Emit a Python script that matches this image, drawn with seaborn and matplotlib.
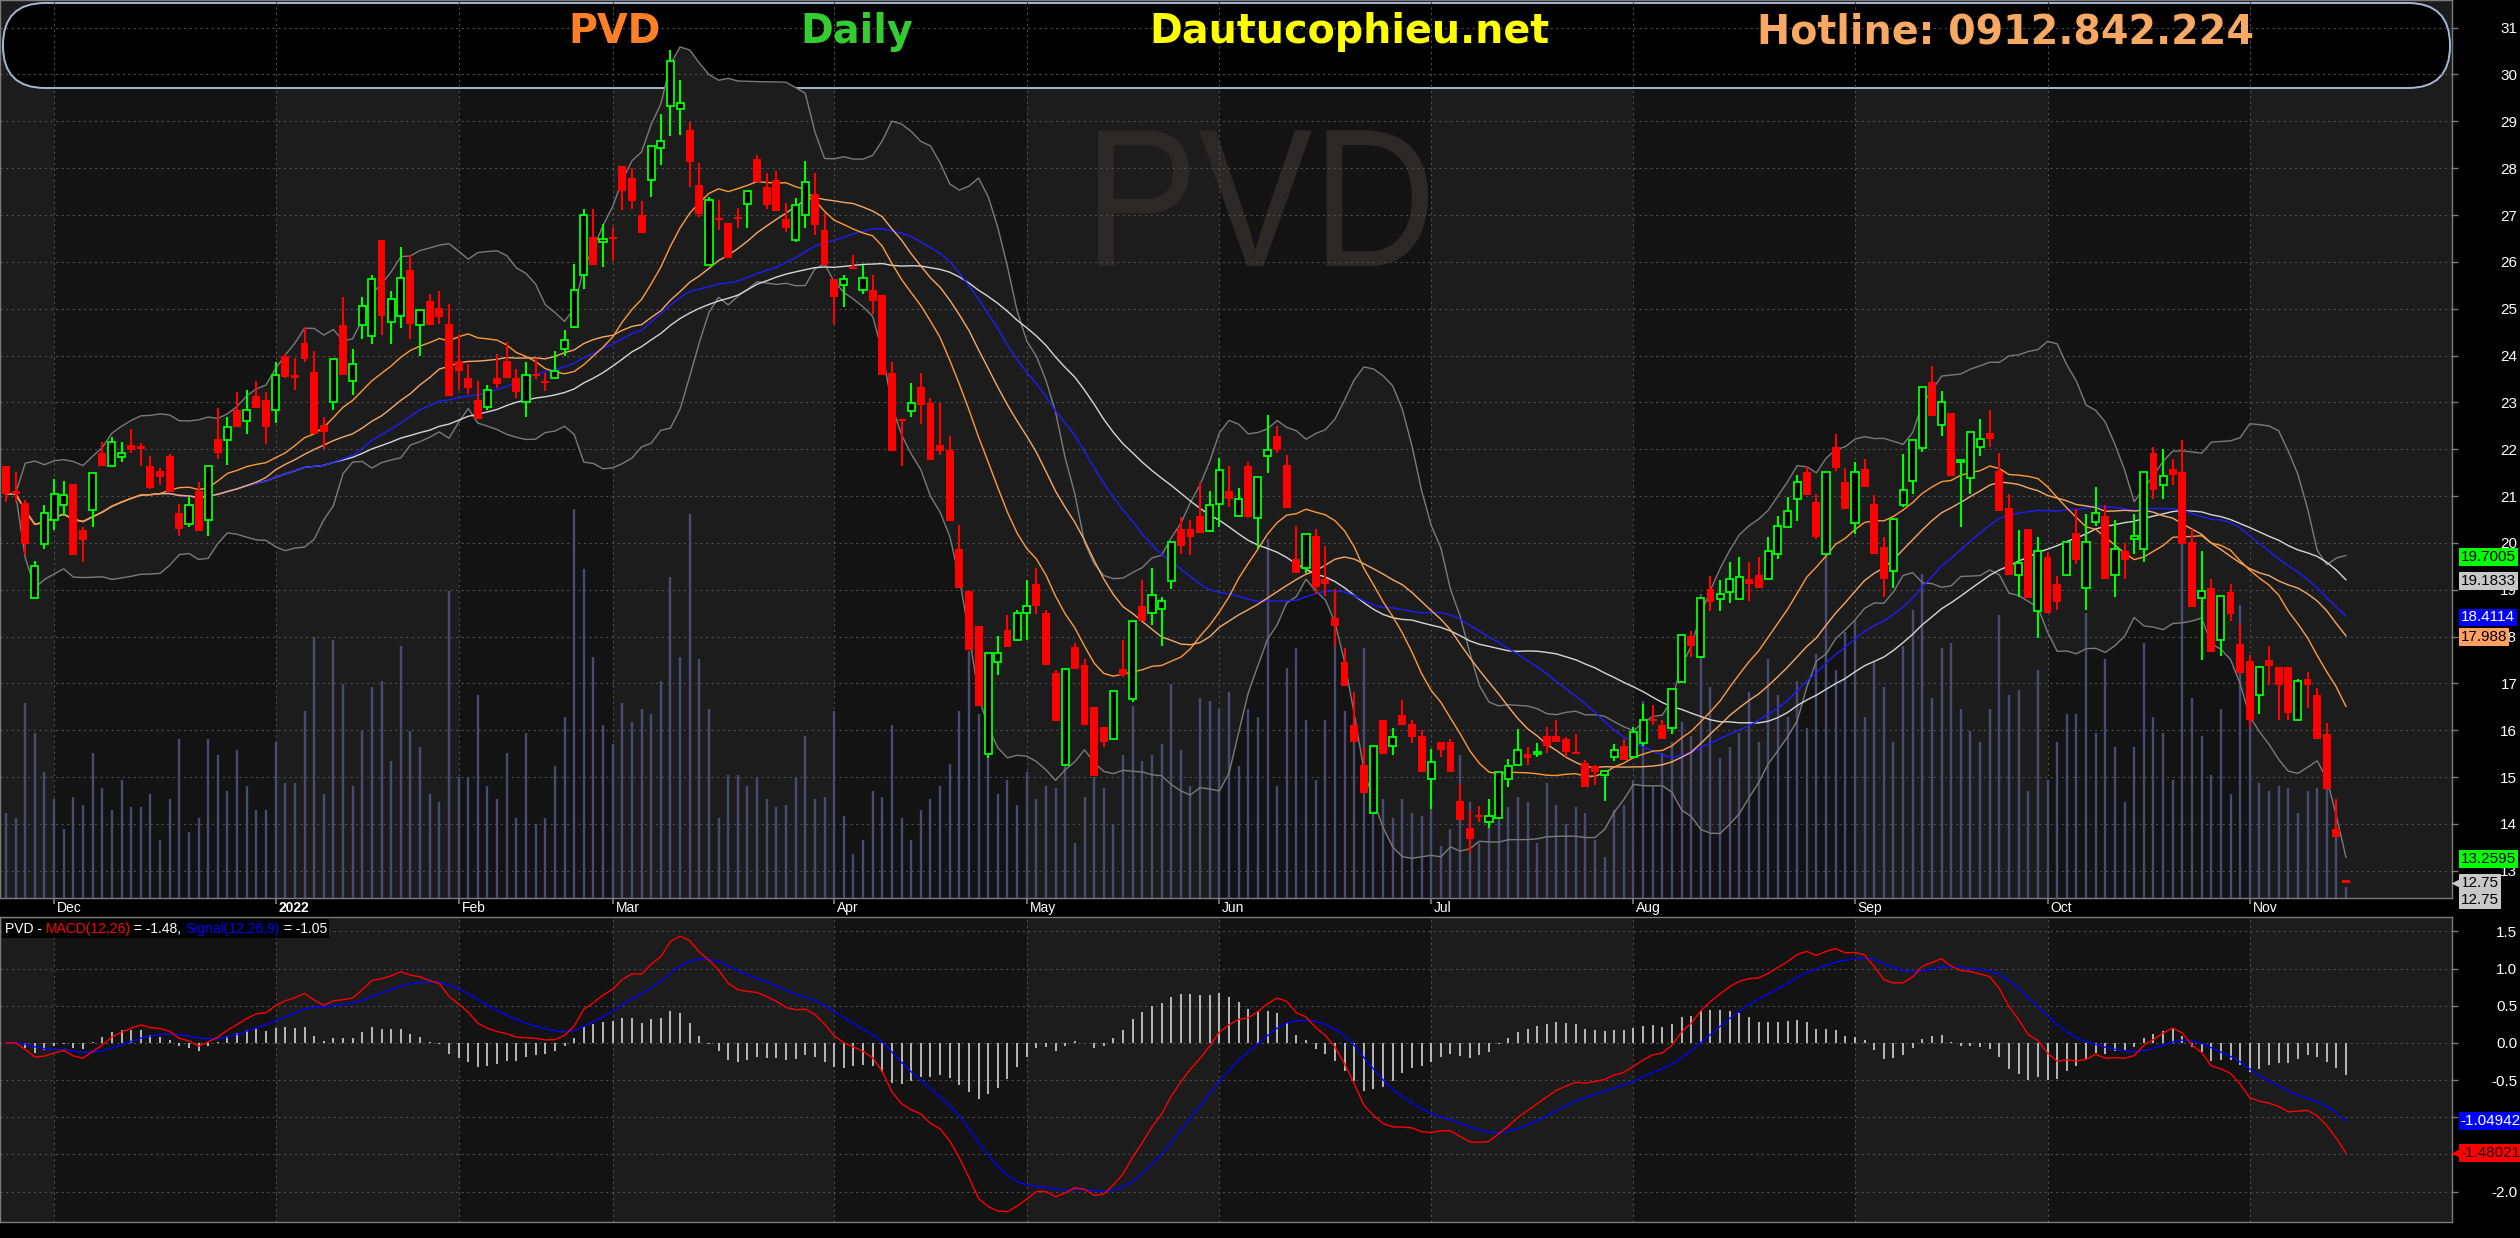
import numpy as np
import pandas as pd
import matplotlib
matplotlib.use("Agg")
import matplotlib.pyplot as plt
import matplotlib.transforms as mtransforms
from matplotlib.patches import FancyBboxPatch, PathPatch
from matplotlib.textpath import TextPath
from matplotlib.font_manager import FontProperties
from matplotlib.offsetbox import TextArea, HPacker, AnchoredOffsetbox
import seaborn as sns

# ---------------- data ----------------
start_date = "2021-11-24"
end_date = "2022-11-15"
holidays = ["2022-01-03", "2022-01-31", "2022-02-01", "2022-02-02", "2022-02-03",
            "2022-02-04", "2022-04-11", "2022-05-02", "2022-05-03", "2022-09-01",
            "2022-09-02"]

opens = [21.64, 21.10, 20.85, 18.82, 19.98, 20.50, 20.80, 21.25, 20.27, 20.70,
         21.93, 21.64, 21.84, 22.08, 22.05, 21.64, 21.54, 21.85, 20.64, 20.41,
         21.11, 20.49, 22.22, 22.19, 22.83, 22.61, 23.13, 23.06, 22.83, 23.98,
         23.59, 24.27, 23.65, 22.51, 23.01, 24.66, 23.45, 24.66, 24.42, 26.47,
         24.71, 24.85, 25.82, 24.66, 25.17, 25.01, 24.68, 23.88, 23.51, 23.06,
         22.90, 23.51, 23.88, 23.51, 23.01, 23.60, 23.45, 23.51, 24.13, 24.62,
         25.71, 26.53, 26.43, 26.54, 28.04, 27.80, 26.99, 27.74, 28.44, 29.33,
         29.26, 28.81, 27.65, 25.93, 26.92, 26.84, 26.95, 27.23, 28.19, 27.60,
         27.74, 26.92, 26.47, 26.99, 27.45, 26.69, 25.64, 25.50, 25.86, 25.40,
         25.40, 25.30, 23.63, 22.62, 22.82, 23.33, 22.99, 22.08, 21.99, 19.88,
         18.98, 18.22, 15.50, 17.46, 18.15, 17.93, 18.50, 19.12, 18.50, 17.22,
         15.26, 17.78, 17.40, 16.49, 16.08, 15.81, 17.31, 16.67, 18.65, 18.50,
         18.60, 19.18, 20.29, 20.29, 20.58, 20.26, 20.84, 21.11, 20.58, 21.64,
         20.53, 21.85, 22.28, 21.66, 19.65, 19.47, 20.15, 19.24, 18.39, 17.45,
         16.12, 15.26, 14.23, 16.22, 15.67, 16.33, 16.14, 15.88, 14.97, 15.75,
         15.75, 14.50, 13.92, 14.16, 14.04, 14.13, 14.97, 15.26, 15.50, 15.49,
         15.88, 15.88, 15.81, 15.51, 15.30, 15.23, 15.04, 15.44, 15.67, 15.44,
         15.72, 16.23, 16.12, 16.05, 17.04, 18.01, 17.57, 19.01, 18.80, 18.95,
         18.80, 19.23, 19.32, 19.24, 19.77, 20.33, 20.94, 21.52, 20.88, 19.77,
         22.04, 21.29, 20.43, 21.58, 20.84, 19.92, 19.39, 20.82, 21.33, 22.02,
         23.43, 22.51, 22.77, 21.73, 21.38, 22.04, 22.34, 21.54, 20.74, 19.32,
         20.29, 18.54, 19.70, 19.12, 19.32, 20.21, 19.03, 20.44, 20.58, 19.32,
         19.82, 20.08, 19.88, 21.93, 21.23, 21.58, 21.52, 20.02, 18.83, 19.03,
         17.93, 18.95, 17.84, 17.49, 16.75, 17.51, 17.35, 17.35, 16.23, 17.10,
         16.75, 15.93, 13.89, 12.75]

highs = [21.64, 21.52, 20.91, 19.61, 20.80, 21.37, 21.33, 21.25, 20.33, 21.49,
         22.16, 22.26, 22.16, 22.43, 22.13, 21.85, 21.61, 21.90, 20.84, 20.99,
         21.31, 21.64, 22.87, 22.69, 23.22, 23.27, 23.45, 23.22, 23.86, 24.04,
         23.94, 24.60, 24.09, 22.69, 23.92, 25.24, 24.13, 25.24, 25.73, 26.47,
         25.38, 26.32, 26.14, 24.97, 25.32, 25.38, 25.09, 24.47, 23.82, 23.45,
         23.37, 24.04, 24.29, 23.71, 23.86, 23.94, 23.63, 24.09, 24.54, 25.96,
         27.13, 27.13, 26.81, 26.75, 28.04, 28.01, 27.29, 28.48, 29.16, 30.53,
         29.88, 28.98, 28.12, 27.39, 27.33, 26.84, 27.16, 27.51, 28.28, 27.89,
         27.93, 27.25, 27.37, 28.16, 27.89, 27.04, 25.64, 25.73, 26.14, 25.93,
         25.73, 25.30, 23.86, 22.62, 23.42, 23.63, 23.10, 22.98, 22.28, 20.39,
         18.98, 18.22, 17.64, 18.01, 18.46, 18.56, 19.20, 19.47, 18.56, 17.29,
         17.31, 17.87, 17.52, 16.49, 16.08, 16.84, 17.92, 18.34, 19.20, 19.47,
         18.85, 20.02, 20.55, 20.49, 21.29, 21.10, 21.81, 21.64, 21.17, 21.73,
         21.40, 22.73, 22.49, 21.87, 20.37, 20.20, 20.29, 19.94, 19.01, 17.75,
         16.82, 15.65, 15.67, 16.22, 16.05, 16.65, 16.22, 16.00, 15.60, 15.75,
         15.82, 14.85, 14.29, 14.39, 14.53, 15.12, 15.38, 16.02, 15.65, 15.72,
         16.07, 16.23, 15.85, 15.93, 15.37, 15.26, 15.13, 15.70, 15.81, 16.08,
         16.57, 16.55, 16.22, 16.89, 18.04, 18.11, 18.83, 19.30, 19.20, 19.59,
         19.71, 19.59, 19.71, 20.12, 20.58, 20.99, 21.46, 21.64, 21.05, 21.52,
         22.32, 21.60, 21.72, 21.79, 21.02, 20.12, 20.51, 21.89, 22.19, 23.33,
         23.77, 23.25, 22.77, 21.78, 22.36, 22.65, 22.84, 21.91, 21.05, 20.27,
         20.29, 20.12, 19.80, 19.30, 20.02, 20.73, 20.61, 21.19, 20.82, 20.49,
         20.00, 20.61, 21.52, 22.05, 22.01, 21.79, 22.20, 20.29, 19.82, 19.22,
         18.87, 19.12, 18.27, 17.60, 17.35, 17.81, 17.35, 17.35, 17.10, 17.25,
         16.90, 16.16, 14.53, 12.75]

lows = [20.88, 20.88, 19.74, 18.82, 19.88, 20.27, 20.58, 19.74, 19.59, 20.35,
        21.64, 21.64, 21.72, 21.93, 21.64, 21.15, 21.23, 21.09, 20.14, 20.35,
        20.26, 20.14, 21.79, 21.66, 22.48, 22.32, 22.87, 22.11, 22.57, 23.51,
        23.27, 23.86, 22.32, 22.01, 22.83, 23.59, 23.16, 24.35, 24.25, 24.44,
        24.25, 24.58, 24.35, 24.00, 24.66, 24.68, 23.13, 23.27, 23.18, 22.65,
        22.83, 23.31, 23.51, 23.10, 22.69, 23.49, 23.24, 23.51, 24.00, 24.58,
        25.42, 25.94, 25.88, 26.02, 27.10, 27.13, 26.61, 27.39, 28.07, 28.68,
        28.71, 27.60, 26.96, 25.93, 26.67, 26.08, 26.73, 26.73, 27.70, 27.13,
        27.08, 26.64, 26.43, 26.73, 26.58, 25.93, 24.68, 25.03, 25.84, 25.32,
        24.88, 23.59, 21.96, 21.64, 22.69, 22.54, 21.78, 21.87, 20.47, 19.04,
        17.72, 16.51, 15.40, 17.17, 17.78, 17.93, 17.92, 18.48, 17.40, 16.20,
        15.26, 17.31, 16.12, 15.03, 15.65, 15.81, 17.13, 16.61, 18.33, 18.25,
        17.81, 19.01, 19.77, 19.74, 20.21, 20.23, 20.35, 20.76, 20.58, 20.53,
        19.88, 21.50, 21.93, 20.75, 19.36, 19.36, 18.92, 18.87, 17.81, 16.94,
        15.75, 14.67, 14.23, 15.50, 15.47, 16.12, 15.73, 15.12, 14.33, 15.42,
        15.12, 14.08, 13.39, 14.04, 13.92, 14.13, 14.80, 15.26, 15.26, 15.42,
        15.52, 15.75, 15.42, 15.49, 14.80, 14.83, 14.50, 15.35, 15.37, 15.44,
        15.67, 16.12, 15.81, 15.93, 17.04, 17.57, 17.57, 18.54, 18.54, 18.71,
        18.80, 18.76, 19.03, 19.24, 19.65, 20.33, 20.47, 21.03, 20.09, 19.77,
        21.54, 20.73, 20.20, 21.20, 19.77, 18.85, 19.04, 20.76, 21.05, 21.95,
        22.71, 22.28, 21.43, 20.35, 21.05, 21.85, 22.05, 20.68, 19.32, 18.85,
        18.83, 17.98, 18.50, 18.56, 19.32, 19.56, 18.56, 20.37, 19.24, 18.85,
        19.24, 19.77, 19.59, 20.94, 20.94, 21.23, 19.98, 18.63, 17.51, 17.68,
        17.58, 18.34, 17.23, 16.08, 16.35, 16.96, 16.23, 16.23, 16.23, 16.47,
        15.82, 14.74, 13.73, 12.75]

closes = [21.05, 21.05, 19.98, 19.50, 20.64, 21.05, 21.02, 19.74, 20.07, 21.49,
          21.64, 22.16, 21.93, 21.99, 22.01, 21.17, 21.40, 21.09, 20.29, 20.80,
          20.26, 21.64, 21.91, 22.48, 22.48, 22.83, 22.87, 22.48, 23.59, 23.54,
          23.51, 23.92, 22.32, 22.37, 23.92, 23.59, 23.82, 25.05, 25.64, 24.85,
          25.20, 25.65, 24.68, 24.97, 24.66, 24.82, 23.13, 23.66, 23.30, 22.65,
          23.27, 23.39, 23.51, 23.22, 23.59, 23.56, 23.41, 23.66, 24.33, 25.40,
          26.99, 25.94, 26.47, 26.49, 27.51, 27.29, 26.61, 28.48, 28.58, 30.29,
          29.40, 28.13, 27.02, 27.31, 26.89, 26.08, 26.91, 27.51, 27.70, 27.22,
          27.08, 26.73, 27.22, 27.70, 26.78, 25.93, 25.25, 25.64, 25.84, 25.65,
          25.17, 23.59, 21.96, 22.60, 22.99, 22.95, 21.78, 21.96, 20.47, 19.04,
          17.72, 16.51, 17.64, 17.64, 17.78, 18.50, 18.65, 18.65, 17.40, 16.20,
          17.31, 17.31, 16.12, 15.03, 15.75, 16.84, 17.17, 18.34, 18.33, 18.89,
          18.77, 20.02, 19.94, 20.12, 20.21, 20.82, 21.56, 20.94, 20.94, 20.56,
          21.40, 21.99, 21.99, 20.75, 19.36, 20.20, 19.06, 19.12, 18.22, 16.94,
          15.75, 14.67, 15.67, 15.50, 15.85, 16.12, 15.85, 15.12, 15.32, 15.59,
          15.12, 14.08, 13.68, 14.14, 14.18, 15.12, 15.23, 15.59, 15.40, 15.53,
          15.67, 15.75, 15.53, 15.49, 14.80, 15.12, 15.13, 15.58, 15.37, 15.96,
          16.21, 16.20, 15.81, 16.89, 18.04, 17.80, 18.83, 18.74, 18.92, 19.22,
          19.27, 19.12, 19.03, 19.82, 20.37, 20.68, 21.31, 21.03, 20.12, 21.52,
          21.61, 20.73, 21.52, 21.20, 19.77, 19.24, 20.51, 21.13, 22.19, 23.33,
          22.71, 23.01, 21.43, 21.78, 22.36, 22.22, 22.22, 20.68, 19.32, 19.58,
          18.83, 19.82, 18.50, 18.74, 20.02, 19.63, 20.02, 20.63, 19.24, 19.88,
          19.63, 20.14, 21.52, 21.13, 21.43, 21.46, 19.98, 18.63, 18.98, 17.68,
          18.87, 18.48, 17.23, 16.23, 17.35, 17.37, 16.96, 16.37, 17.05, 16.96,
          15.82, 14.74, 13.73, 12.75]

# volume in millions of shares
volumes = [3.1, 2.9, 7.1, 6.0, 4.6, 3.6, 2.5, 3.7, 3.4, 5.3,
           4.0, 3.2, 4.3, 3.3, 3.3, 3.8, 2.1, 3.6, 5.8, 2.4,
           2.9, 5.8, 5.2, 3.9, 5.4, 4.1, 3.2, 3.2, 5.7, 4.2,
           4.2, 6.8, 9.5, 3.8, 9.4, 7.8, 4.1, 6.1, 7.7, 7.9,
           5.0, 9.2, 6.1, 5.5, 3.8, 3.5, 11.2, 4.4, 4.4, 7.4,
           4.1, 3.6, 5.3, 2.9, 6.0, 2.7, 2.9, 4.8, 6.6, 14.2,
           12.0, 8.8, 6.3, 5.6, 7.1, 6.4, 6.9, 6.7, 7.9, 11.7,
           8.8, 14.0, 8.7, 6.9, 2.9, 4.5, 4.5, 4.1, 4.4, 3.6,
           3.3, 3.4, 4.4, 5.9, 3.6, 3.7, 6.8, 3.0, 1.6, 2.1,
           3.9, 3.7, 6.3, 2.9, 2.1, 3.2, 3.6, 4.1, 4.9, 6.8,
           9.0, 6.7, 5.2, 3.8, 4.3, 3.4, 4.6, 3.6, 4.1, 4.0,
           4.8, 2.0, 3.7, 4.4, 4.0, 2.7, 5.2, 7.0, 5.0, 5.2,
           5.6, 7.8, 5.4, 4.1, 7.3, 7.2, 6.9, 7.5, 4.8, 6.9,
           6.6, 13.1, 4.1, 8.4, 9.1, 6.5, 4.3, 6.5, 11.2, 6.8,
           6.5, 9.1, 3.3, 3.6, 2.9, 3.6, 3.1, 3.0, 3.7, 1.9,
           2.5, 5.2, 3.5, 2.0, 2.9, 3.3, 3.3, 3.7, 3.5, 2.0,
           4.2, 3.4, 2.7, 3.3, 3.1, 2.1, 1.5, 3.2, 3.4, 4.3,
           7.2, 4.1, 5.3, 5.7, 6.4, 5.9, 11.1, 7.7, 5.1, 5.5,
           6.0, 7.5, 5.7, 8.7, 7.4, 6.6, 7.9, 6.2, 8.9, 12.5,
           8.3, 9.7, 10.1, 6.6, 8.6, 7.7, 5.7, 9.2, 10.5, 11.8,
           7.3, 9.1, 9.3, 6.9, 6.1, 5.7, 6.9, 10.3, 7.4, 7.6,
           3.9, 8.3, 4.3, 5.7, 6.7, 6.7, 10.4, 6.0, 8.7, 5.5,
           3.5, 5.5, 9.3, 6.6, 6.0, 4.3, 12.9, 7.3, 5.9, 4.5,
           6.9, 3.8, 10.7, 8.3, 4.2, 3.9, 4.1, 4.0, 3.1, 3.9,
           4.0, 4.1, 3.5, 0.4]

# labels shown in the coloured boxes on the right
price_tags = [("19.7005", "#00ff00", "black"), ("19.1833", "#c8c8c8", "black"),
              ("18.4114", "#0000ff", "white"), ("17.988", "#ffa060", "black"),
              ("13.2595", "#00ff00", "black")]
last_tag = "12.75"
macd_tags = [("-1.04942", "#0000ff", "white"), ("-1.48021", "#ff0000", "#1a0000")]
macd_title = [("PVD - ", "white"), ("MACD(12,26)", "#ff0000"), (" = -1.48, ", "white"),
              ("Signal(12,26,9)", "#0000ff"), (" = -1.05", "white")]
header = [("PVD", "#ff7f27"), ("Daily", "#33cc33"), ("Dautucophieu.net", "#ffff00"),
          ("Hotline: 0912.842.224", "#f7a862")]
watermark = "PVD"
month_names = {1: "2022", 2: "Feb", 3: "Mar", 4: "Apr", 5: "May", 6: "Jun", 7: "Jul",
               8: "Aug", 9: "Sep", 10: "Oct", 11: "Nov", 12: "Dec"}

# ---------------- build frame + indicators ----------------
dates = pd.bdate_range(start_date, end_date)
dates = dates[~dates.isin(pd.to_datetime(holidays))]
df = pd.DataFrame({"date": dates, "open": opens, "high": highs, "low": lows,
                   "close": closes, "vol": volumes})
df["i"] = np.arange(len(df))

c = df["close"]
df["ma15"] = c.rolling(15, min_periods=1).mean()
df["ma25"] = c.rolling(25, min_periods=1).mean()
df["ma35"] = c.rolling(35, min_periods=1).mean()
df["ma45"] = c.rolling(45, min_periods=1).mean()
sd = c.rolling(15, min_periods=1).std(ddof=0)
df["bb_up"] = df["ma15"] + 2 * sd
df["bb_lo"] = df["ma15"] - 2 * sd

ema12 = c.ewm(span=12, adjust=False).mean()
ema26 = c.ewm(span=26, adjust=False).mean()
df["macd"] = ema12 - ema26
df["signal"] = df["macd"].ewm(span=9, adjust=False).mean()
df["hist"] = df["macd"] - df["signal"]

# month boundaries (first trading day of each month)
mstart = df.index[df["date"].dt.month != df["date"].dt.month.shift()].tolist()

# ---------------- figure ----------------
sns.set_theme(style="dark")
plt.rcParams["font.family"] = ["Liberation Sans", "DejaVu Sans"]
plt.rcParams["axes.linewidth"] = 1.0

W, H = 2520, 1238
fig = plt.figure(figsize=(W / 100, H / 100), dpi=100, facecolor="black")

LIGHT = "#1c1c1c"
DARK = "#131313"
GRID = "#4e4e4e"
SPINE = "#7c7c7c"
XMIN, XMAX = -0.62, 254.0

main_rect = [0, 1 - 898 / H, 2452 / W, 898 / H]
macd_rect = [0, 1 - 1222 / H, 2452 / W, (1222 - 917) / H]

ax_bg = fig.add_axes(main_rect)
ax_vol = fig.add_axes(main_rect, sharex=ax_bg)
ax = fig.add_axes(main_rect, sharex=ax_bg, sharey=ax_bg)
ax_m = fig.add_axes(macd_rect, sharex=ax_bg)


def shade_months(a):
    # alternating darker bands for every other month
    a.set_facecolor(LIGHT)
    for k in range(len(mstart)):
        x0 = XMIN if k == 0 else mstart[k]
        x1 = XMAX if k == len(mstart) - 1 else mstart[k + 1]
        a.axvspan(x0, x1, color=LIGHT if k % 2 == 0 else DARK, lw=0, zorder=0.1)


# background layer: month bands, header box, watermark, bollinger fill, grid
shade_months(ax_bg)
ax_bg.set_xlim(XMIN, XMAX)
ax_bg.set_ylim(12.42, 31.59)
ax_bg.set_xticks(mstart[1:])
ax_bg.set_yticks(range(13, 32))
ax_bg.set_axisbelow(True)
ax_bg.grid(True, color=GRID, lw=0.8, ls=(0, (2, 3)))
ax_bg.tick_params(length=0, labelbottom=False, labelleft=False)
for s in ax_bg.spines.values():
    s.set_color(SPINE)

box = FancyBboxPatch((0.03, (H - 88) / 100), 24.47, 0.85,
                     boxstyle="round,pad=0,rounding_size=0.42",
                     transform=fig.dpi_scale_trans, fc="black", ec="#a4b8d6",
                     lw=1.4, zorder=0.3, clip_on=False)
ax_bg.add_patch(box)

# big faint watermark, squeezed horizontally like the original narrow font
tp = TextPath((0, 0), watermark, size=1.97, prop=FontProperties(family="Liberation Sans"))
ext = tp.get_extents()
wm_tr = (mtransforms.Affine2D().translate(-ext.x0, 0).scale(3.30 / ext.width, 1)
         .translate(10.98, (H - 266) / 100) + fig.dpi_scale_trans)
ax_bg.add_patch(PathPatch(tp, transform=wm_tr, fc="#2b2925", ec="none", zorder=0.4,
                          clip_on=False))

ax_bg.fill_between(df["i"], df["bb_lo"], df["bb_up"], color=LIGHT, lw=0, zorder=0.45)

# volume layer
ax_vol.patch.set_visible(False)
ax_vol.vlines(df["i"], 0, df["vol"], color="#4a4a72", lw=1.7)
ax_vol.set_ylim(0, 32.74)
ax_vol.set_yticks([])
ax_vol.tick_params(length=0, labelbottom=False, labelleft=False)
for s in ax_vol.spines.values():
    s.set_visible(False)

# price layer
ax.patch.set_visible(False)
for s in ax.spines.values():
    s.set_visible(False)

sns.lineplot(data=df, x="i", y="bb_up", ax=ax, color="#7a7a7a", lw=1.0)
sns.lineplot(data=df, x="i", y="bb_lo", ax=ax, color="#7a7a7a", lw=1.0)
sns.lineplot(data=df, x="i", y="ma45", ax=ax, color="#d6d6d6", lw=1.0)
sns.lineplot(data=df, x="i", y="ma35", ax=ax, color="#1c1cff", lw=1.0)
sns.lineplot(data=df, x="i", y="ma25", ax=ax, color="#f7a868", lw=1.0)
sns.lineplot(data=df, x="i", y="ma15", ax=ax, color="#ff9a3a", lw=1.0)

up = df["close"] > df["open"]
body_lo = np.minimum(df["open"], df["close"])
body_h = np.maximum((df["close"] - df["open"]).abs(), 0.05)
ax.vlines(df["i"][up], df["low"][up], df["high"][up], color="#00ff00", lw=1.5, zorder=3)
ax.vlines(df["i"][~up], df["low"][~up], df["high"][~up], color="#ff0000", lw=1.5, zorder=3)
ax.bar(df["i"][~up], body_h[~up], bottom=body_lo[~up], width=0.82, color="#ff0000",
       lw=0, zorder=4)
ax.bar(df["i"][up], body_h[up], bottom=body_lo[up], width=0.74, color="black",
       edgecolor="#00ff00", lw=1.3, zorder=4)

ax.set_xlim(XMIN, XMAX)
ax.set_ylim(12.42, 31.59)
ax.set_xlabel("")
ax.set_ylabel("")
ax.yaxis.tick_right()
ax.set_yticks(range(13, 32))
ax.set_yticklabels([str(v) for v in range(13, 32)])
ax.tick_params(axis="y", right=True, direction="out", length=4, width=1, color=SPINE,
               labelcolor="white", labelsize=11, pad=43)
for t in ax.yaxis.get_major_ticks():
    t.label2.set_horizontalalignment("right")
ax.tick_params(axis="x", bottom=True, direction="out", length=4, color=SPINE,
               labelbottom=False)

# month labels under the price panel
tr_lab = mtransforms.blended_transform_factory(ax.transData, ax.transAxes)
for m in mstart[1:]:
    mon = df["date"][m].month
    ax.text(m + 0.3, -0.0115, month_names[mon], transform=tr_lab, ha="left",
            va="center", color="white", fontsize=10,
            fontweight="bold" if mon == 1 else "normal", clip_on=False)

# coloured value tags on the right
tr_y = mtransforms.blended_transform_factory(ax.transAxes, ax.transData)


def tag(a, trans, text, fc, tc, dy=0, arrow=False):
    v = float(text)
    a.annotate(text, xy=(1.0, v), xycoords=trans, xytext=(6.3, dy),
               textcoords="offset points", ha="left", va="center", fontsize=11,
               color=tc, bbox=dict(boxstyle="square,pad=0.12", fc=fc, ec="none"),
               annotation_clip=False, zorder=10)
    if arrow:
        off = mtransforms.ScaledTranslation(4.5 / 100, dy / 72, fig.dpi_scale_trans)
        a.plot([1.0], [v], marker="<", ms=9, color=fc, mec="none",
               transform=trans + off, clip_on=False, zorder=10)


for text, fc, tc in price_tags:
    tag(ax, tr_y, text, fc, tc)
tag(ax, tr_y, last_tag, "#c8c8c8", "black", arrow=True)
tag(ax, tr_y, last_tag, "#c8c8c8", "black", dy=-12.5)

# header texts
xs = [615, 857, 1349, 2006]
for (txt, col), x in zip(header, xs):
    fig.text(x / W, 1 - 43 / H, txt, ha="center", va="baseline", color=col,
             fontsize=28.5, fontweight="bold", family=["DejaVu Sans"])

# ---------------- MACD panel ----------------
shade_months(ax_m)
ax_m.set_xlim(XMIN, XMAX)
ax_m.set_ylim(-2.41, 1.695)
ax_m.set_axisbelow(True)
ax_m.grid(True, color=GRID, lw=0.8, ls=(0, (2, 3)))
for s in ax_m.spines.values():
    s.set_color(SPINE)

ax_m.vlines(df["i"], 0, df["hist"], color="#d2d2d2", lw=1.2, zorder=2)
sns.lineplot(data=df, x="i", y="signal", ax=ax_m, color="#0000ff", lw=1.0)
sns.lineplot(data=df, x="i", y="macd", ax=ax_m, color="#ff0000", lw=1.0)
ax_m.set_xlabel("")
ax_m.set_ylabel("")
ax_m.yaxis.tick_right()
mt = np.arange(-2.0, 1.51, 0.5)
ax_m.set_yticks(mt)
ax_m.set_yticklabels([f"{v:.1f}" for v in mt])
ax_m.tick_params(axis="y", right=True, direction="out", length=4, width=1, color=SPINE,
                 labelcolor="white", labelsize=11, pad=43)
for t in ax_m.yaxis.get_major_ticks():
    t.label2.set_horizontalalignment("right")
ax_m.tick_params(axis="x", length=0, labelbottom=False)

tr_ym = mtransforms.blended_transform_factory(ax_m.transAxes, ax_m.transData)
tag(ax_m, tr_ym, macd_tags[0][0], macd_tags[0][1], macd_tags[0][2])
tag(ax_m, tr_ym, macd_tags[1][0], macd_tags[1][1], macd_tags[1][2], arrow=True)

parts = [TextArea(s, textprops=dict(color=col, fontsize=10)) for s, col in macd_title]
pack = HPacker(children=parts, align="baseline", pad=0, sep=0)
title_box = AnchoredOffsetbox(loc="upper left", child=pack, pad=0.15, borderpad=0.15,
                              frameon=True, bbox_to_anchor=(0.0, 1.0),
                              bbox_transform=ax_m.transAxes)
title_box.patch.set_facecolor("black")
title_box.patch.set_edgecolor("none")
title_box.zorder = 10
ax_m.add_artist(title_box)

fig.savefig("out.png", dpi=100, facecolor="black")
